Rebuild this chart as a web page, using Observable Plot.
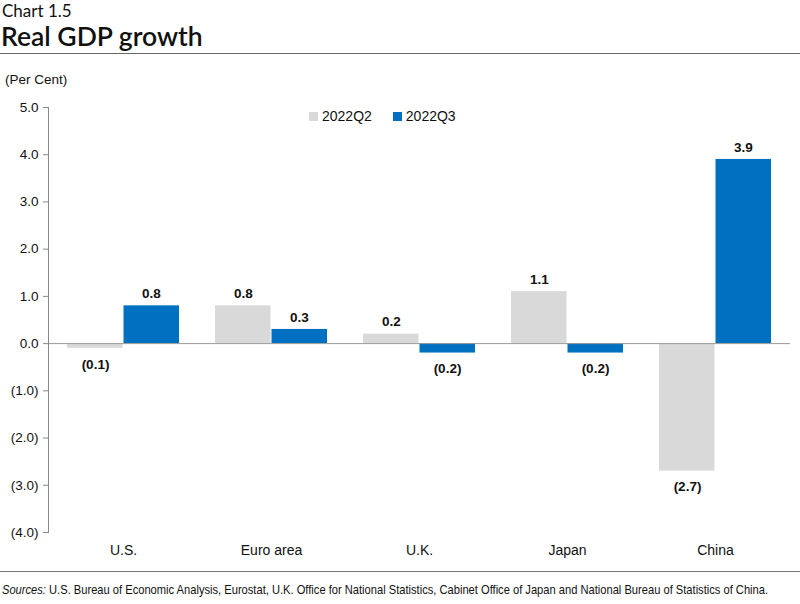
<!DOCTYPE html>
<html>
<head>
<meta charset="utf-8">
<script src="https://cdn.jsdelivr.net/npm/d3@7"></script>
<script src="https://cdn.jsdelivr.net/npm/@observablehq/plot@0.6"></script>
<style>
  body { margin: 0; background: #fff; width: 800px; height: 604px; position: relative; overflow: hidden; font-family: "Liberation Sans", Arial, sans-serif; }
  .abs { position: absolute; white-space: nowrap; line-height: 1; }
  #t1 { left: 2px; top: 1.5px; font-family: Lato, "Open Sans", sans-serif; font-size: 17px; color: #111; }
  #t2 { left: 1px; top: 22.5px; font-family: Lato, "Open Sans", sans-serif; font-size: 26.5px; font-weight: 600; color: #111; }
  #hr1 { left: 0; top: 53px; width: 800px; height: 0; border-top: 1.5px solid #666; }
  #unit { left: 5px; top: 73px; font-size: 13.5px; color: #111; }
  #chart { left: 0; top: 60px; }
  #legend { left: 309px; top: 109px; font-size: 14px; color: #111; display: flex; align-items: center; }
  .sw { display: inline-block; width: 9px; height: 9px; margin-right: 4px; }
  #hr2 { left: 0; top: 571px; width: 800px; height: 0; border-top: 1.5px solid #777; }
  #src { left: 2px; top: 583px; font-size: 13px; color: #111; transform-origin: left top; }
</style>
</head>
<body>
<div id="t1" class="abs">Chart 1.5</div>
<div id="t2" class="abs">Real GDP growth</div>
<div id="hr1" class="abs"></div>
<div id="chart" class="abs"></div>
<div id="unit" class="abs">(Per Cent)</div>
<div id="legend" class="abs"></div>
<div id="hr2" class="abs"></div>
<div id="src" class="abs"><i>Sources:</i> U.S. Bureau of Economic Analysis, Eurostat, U.K. Office for National Statistics, Cabinet Office of Japan and National Bureau of Statistics of China.</div>
<script>
const countries = ["U.S.", "Euro area", "U.K.", "Japan", "China"];
const series = ["2022Q2", "2022Q3"];
const q2 = [-0.1, 0.8, 0.2, 1.1, -2.7];
const q3 = [0.8, 0.3, -0.2, -0.2, 3.9];
const yTicks = [5, 4, 3, 2, 1, 0, -1, -2, -3, -4];
const colors = ["#d9d9d9", "#0070c0"];

const fmt = d => d < 0 ? `(${(-d).toFixed(1)})` : d.toFixed(1);

const d2 = countries.map((c, i) => ({country: c, value: q2[i]}));
const d3v = countries.map((c, i) => ({country: c, value: q3[i]}));

const labelMark = (data, dx) => [
  Plot.text(data.filter(d => d.value >= 0), {x: "country", y: "value", text: d => fmt(d.value), dx, dy: -12, fontWeight: "bold", fontSize: 13.5, fill: "#111"}),
  Plot.text(data.filter(d => d.value < 0), {x: "country", y: "value", text: d => fmt(d.value), dx, dy: 16, fontWeight: "bold", fontSize: 13.5, fill: "#111"})
];

const plot = Plot.plot({
  width: 800,
  height: 505,
  marginTop: 47,
  marginBottom: 33,
  marginLeft: 48,
  marginRight: 10,
  style: {fontFamily: "'Liberation Sans', Arial, sans-serif", fontSize: "13.5px", color: "#111", background: "transparent"},
  x: {domain: countries, paddingInner: 0.245, paddingOuter: 0.1225, label: null},
  y: {domain: [-4, 5], label: null},
  marks: [
    Plot.barY(d2, {x: "country", y: "value", fill: colors[0], insetRight: 56.5, insetLeft: 0}),
    Plot.barY(d3v, {x: "country", y: "value", fill: colors[1], insetLeft: 56.5, insetRight: 0}),
    Plot.ruleY([0], {stroke: "#999", strokeWidth: 1}),
    Plot.axisY({ticks: yTicks, tickFormat: fmt, tickSize: 5, tickPadding: 5, stroke: "#888", label: null, fontSize: 13.5}),
    Plot.frame({anchor: "left", stroke: "#888"}),
    Plot.axisX({tickSize: 0, tickPadding: 13, label: null, fontSize: 14}),
    ...labelMark(d2, -28),
    ...labelMark(d3v, 28)
  ]
});
document.getElementById("chart").appendChild(plot);

const legend = document.getElementById("legend");
series.forEach((s, i) => {
  const item = document.createElement("span");
  item.style.display = "inline-flex";
  item.style.alignItems = "center";
  item.style.marginRight = i === 0 ? "21px" : "0";
  item.innerHTML = `<span class="sw" style="background:${colors[i]}"></span>${s}`;
  legend.appendChild(item);
});

const src = document.getElementById("src");
const w = src.scrollWidth;
if (w > 0) src.style.transform = `scaleX(${766 / w})`;
</script>
</body>
</html>
